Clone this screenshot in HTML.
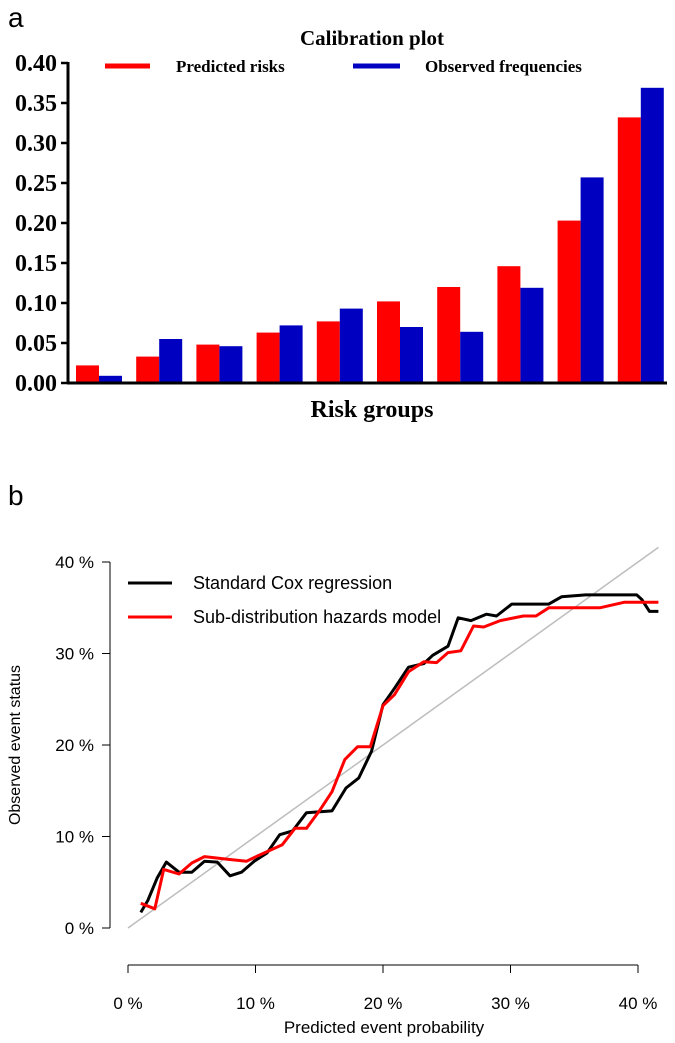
<!DOCTYPE html>
<html><head><meta charset="utf-8"><style>
html,body{margin:0;padding:0;background:#fff;}
svg{display:block;}
.serif{font-family:"Liberation Serif",serif;font-weight:bold;}
.sans{font-family:"Liberation Sans",sans-serif;}
</style></head><body>
<svg id="fig" width="675" height="1043" viewBox="0 0 675 1043" xmlns="http://www.w3.org/2000/svg">
<text x="8" y="27" class="sans" font-size="28">a</text>
<text x="372" y="45" class="serif" font-size="21" text-anchor="middle">Calibration plot</text>
<line x1="105" y1="66" x2="150" y2="66" stroke="#ff0000" stroke-width="5"/>
<text x="176" y="72" class="serif" font-size="17">Predicted risks</text>
<line x1="353" y1="66" x2="400" y2="66" stroke="#0000c0" stroke-width="5"/>
<text x="425" y="72" class="serif" font-size="17">Observed frequencies</text>
<g id="barsA"></g>
<text x="372" y="417" class="serif" font-size="24" text-anchor="middle">Risk groups</text>

<text x="8" y="505" class="sans" font-size="28">b</text>
<g id="chartB"></g>
<text x="20" y="745" class="sans" font-size="16" text-anchor="middle" transform="rotate(-90 20 745)">Observed event status</text>
<text x="384" y="1033" class="sans" font-size="17" text-anchor="middle">Predicted event probability</text>
<line x1="128" y1="583" x2="172" y2="583" stroke="#000" stroke-width="3"/>
<text x="193" y="589" class="sans" font-size="18">Standard Cox regression</text>
<line x1="128" y1="617" x2="172" y2="617" stroke="#ff0000" stroke-width="3"/>
<text x="193" y="623" class="sans" font-size="18">Sub-distribution hazards model</text>
</svg>
<script>
const groups=[1,2,3,4,5,6,7,8,9,10];
const predicted=[0.022,0.033,0.048,0.063,0.077,0.102,0.120,0.146,0.203,0.332];
const observed=[0.009,0.055,0.046,0.072,0.093,0.070,0.064,0.119,0.257,0.369];
const yTicksA=[0,0.05,0.10,0.15,0.20,0.25,0.30,0.35,0.40];
const yTickLabelsA=["0.00","0.05","0.10","0.15","0.20","0.25","0.30","0.35","0.40"];

const coxX=[1.0,1.55,2.3,3.0,4.0,5.0,6.0,7.0,8.0,8.9,9.9,10.9,11.9,12.9,14.0,16.0,17.1,18.1,19.1,20.0,20.9,22.0,23.2,23.9,25.1,25.9,26.9,28.1,28.9,30.1,33.0,34.0,35.9,39.9,40.3,40.9,41.6];
const coxY=[1.7,3.0,5.5,7.2,6.1,6.1,7.3,7.2,5.7,6.1,7.3,8.2,10.2,10.6,12.6,12.8,15.3,16.4,19.3,24.4,26.2,28.5,28.9,29.8,30.8,33.9,33.6,34.3,34.1,35.4,35.4,36.2,36.4,36.4,35.9,34.6,34.6];
const subX=[1.0,2.1,2.8,4.0,5.0,6.0,7.9,9.3,10.2,12.1,13.1,14.0,15.0,16.0,17.0,18.0,19.0,20.0,20.9,22.0,23.2,24.2,25.1,26.1,27.1,27.9,29.2,31.0,32.0,33.0,37.0,38.9,41.6];
const subY=[2.7,2.1,6.4,5.9,7.1,7.8,7.5,7.3,7.9,9.1,10.9,10.9,12.8,14.9,18.4,19.8,19.8,24.3,25.5,28.0,29.1,29.0,30.1,30.3,33.0,32.9,33.6,34.1,34.1,35.0,35.0,35.6,35.6];
const diag=[0,41.6];
const yTicksB=[0,10,20,30,40];
const xTicksB=[0,10,20,30,40];

const NS="http://www.w3.org/2000/svg";
function mk(tag,attrs,parent){const e=document.createElementNS(NS,tag);for(const k in attrs)e.setAttribute(k,attrs[k]);parent.appendChild(e);return e;}

const gA=document.getElementById('barsA');
const yA=v=>383-v*800;
const xA=i=>76+i*60.2;
const bw=23;
predicted.forEach((v,i)=>{
  const r=mk('rect',{x:xA(i),y:yA(v),width:bw,height:383-yA(v),fill:'#ff0000'},gA);
  
  
});
observed.forEach((v,i)=>{
  const r=mk('rect',{x:xA(i)+bw,y:yA(v),width:bw,height:383-yA(v),fill:'#0000c0'},gA);
  
  
});
let ax=mk('line',{x1:68,y1:62,x2:68,y2:384,stroke:'#000','stroke-width':3},gA);


ax=mk('line',{x1:67,y1:383,x2:667,y2:383,stroke:'#000','stroke-width':3},gA);


yTicksA.forEach((v,i)=>{
  const t=mk('line',{x1:61,y1:yA(v),x2:68,y2:yA(v),stroke:'#000','stroke-width':2.5},gA);
  
  
  const tx=mk('text',{x:57,y:yA(v)+8,'text-anchor':'end','font-size':24,class:'serif'},gA);
  tx.textContent=yTickLabelsA[i];
  
  
});

const gB=document.getElementById('chartB');
const xB=v=>128+v*12.75;
const yB=v=>928-v*9.15;
let l=mk('line',{x1:110,y1:yB(0),x2:110,y2:yB(40),stroke:'#000','stroke-width':1},gB);


yTicksB.forEach(v=>{
  const t=mk('line',{x1:102,y1:yB(v),x2:110,y2:yB(v),stroke:'#000','stroke-width':1},gB);
  
  
  const tx=mk('text',{x:94,y:yB(v)+6,'text-anchor':'end','font-size':17,class:'sans'},gB);
  tx.textContent=v+' %';
  
  
});
l=mk('line',{x1:xB(0),y1:965,x2:xB(40),y2:965,stroke:'#000','stroke-width':1},gB);


xTicksB.forEach(v=>{
  const t=mk('line',{x1:xB(v),y1:965,x2:xB(v),y2:973,stroke:'#000','stroke-width':1},gB);
  
  
  const tx=mk('text',{x:xB(v),y:1009,'text-anchor':'middle','font-size':17,class:'sans'},gB);
  tx.textContent=v+' %';
  
  
});
l=mk('line',{x1:xB(diag[0]),y1:yB(diag[0]),x2:xB(diag[1]),y2:yB(diag[1]),stroke:'#bdbdbd','stroke-width':1.5},gB);


function pts(xs,ys){return xs.map((x,i)=>xB(x).toFixed(1)+','+yB(ys[i]).toFixed(1)).join(' ');}
let p=mk('polyline',{points:pts(coxX,coxY),fill:'none',stroke:'#000','stroke-width':3,'stroke-linejoin':'round'},gB);


p=mk('polyline',{points:pts(subX,subY),fill:'none',stroke:'#ff0000','stroke-width':3,'stroke-linejoin':'round'},gB);


</script>
</body></html>
